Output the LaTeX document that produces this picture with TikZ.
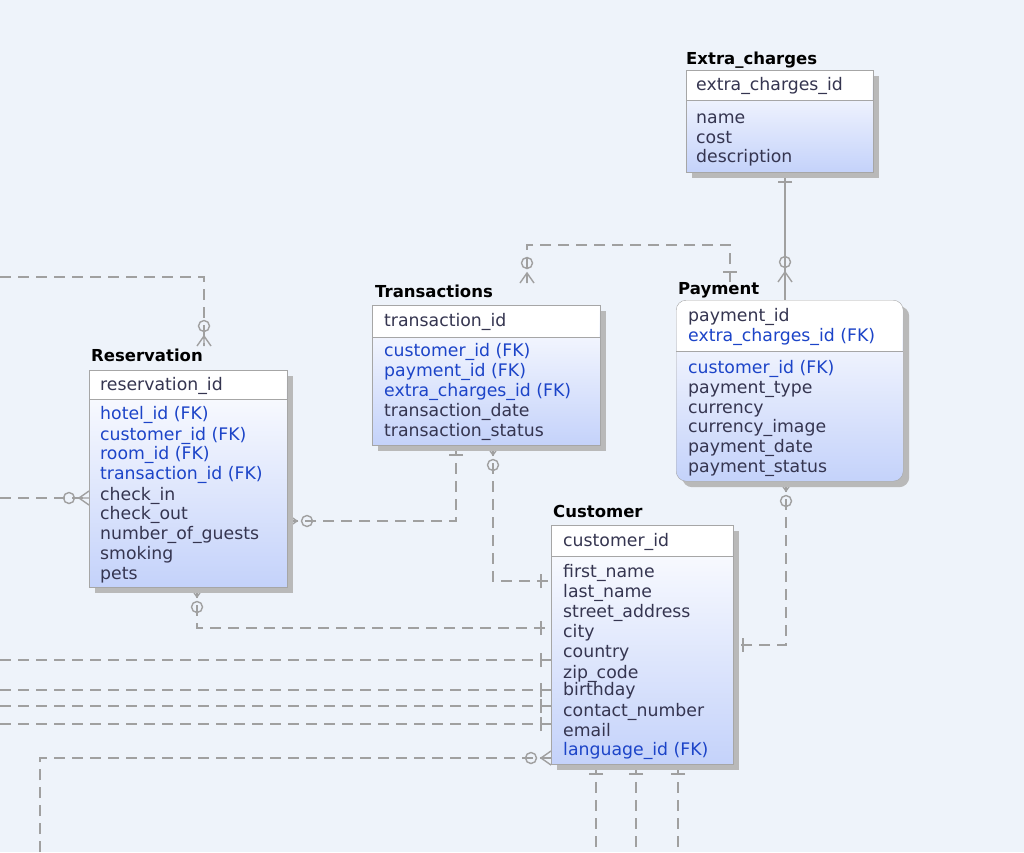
\documentclass[tikz,border=0pt]{standalone}
\usepackage{fontspec}
\setmainfont{DejaVu Sans}
\usetikzlibrary{shadows}
\definecolor{bg}{HTML}{EEF3FA}
\definecolor{fk}{HTML}{1C44C8}
\definecolor{tx}{HTML}{353550}
\definecolor{ln}{HTML}{A0A0A0}
\definecolor{bodyb}{HTML}{C4D2FA}
\begin{document}
\begin{tikzpicture}[x=1pt,y=-1pt,
  tbl/.style={draw=gray!70,anchor=north west,inner sep=0,top color=white,bottom color=bodyb,
    drop shadow={shadow xshift=6pt,shadow yshift=-6pt,fill=gray!55,opacity=1}},
  ttl/.style={anchor=base west,font=\fontsize{16.5}{16}\selectfont\bfseries,inner sep=0},
  fld/.style={anchor=base west,font=\fontsize{17.3}{17}\selectfont,text=tx,inner sep=0},
  fkf/.style={fld,text=fk},
  rel/.style={draw=ln,line width=1.6pt,dash pattern=on 11pt off 7pt},
  rels/.style={draw=ln,line width=1.6pt},
  bar/.pic={\draw[ln,line width=1.4pt] (10,-7)--(10,7);},
  crow/.pic={\draw[ln,line width=1.4pt] (0,-7)--(10,0)--(0,7) (0,0)--(10,0) (20,0) circle (5.5);},
]
\useasboundingbox[fill=bg] (0,0) rectangle (1024,852);

% free ends
\coordinate (l1) at (0,277);
\coordinate (l2) at (0,498);
\coordinate (h1) at (0,660);
\coordinate (h2) at (0,690);
\coordinate (h3) at (0,706);
\coordinate (h4) at (0,724);
\coordinate (b0) at (40,852);
\coordinate (bb1) at (596,852);
\coordinate (bb2) at (636,852);
\coordinate (bb3) at (678,852);

% ---------- connectors ----------
\draw[rels] (785,172) -- (785,300);
\pic[rotate=270] at (785,172) {bar};
\pic[rotate=90] at (785,282) {crow};

\draw[rel] (730,282) -- (730,245) -- (527,245) -- (527,283);
\pic[rotate=90] at (730,282) {bar};
\pic[rotate=90] at (527,283) {crow};

\draw[rel] (l1) -- (204,277) -- (204,346);
\pic[rotate=90] at (204,346) {crow};

\draw[rel] (l2) -- (89,498);
\pic[rotate=180] at (89,498) {crow};

\draw[rel] (456,445) -- (456,521) -- (287,521);
\pic[rotate=270] at (456,445) {bar};
\pic[rotate=0] at (287,521) {crow};

\draw[rel] (493,445) -- (493,581) -- (551,581);
\pic[rotate=270] at (493,445) {crow};
\pic[rotate=180] at (551,581) {bar};

\draw[rel] (197,587) -- (197,628) -- (551,628);
\pic[rotate=270] at (197,587) {crow};
\pic[rotate=180] at (551,628) {bar};

\draw[rel] (786,481) -- (786,645) -- (733,645);
\pic[rotate=270] at (786,481) {crow};
\pic[rotate=0] at (733,645) {bar};

\foreach \c/\y in {h1/660,h2/690,h3/706,h4/724}{
  \draw[rel] (\c) -- (551,\y);
  \pic[rotate=180] at (551,\y) {bar};
}
\draw[rel] (b0) -- (40,758) -- (551,758);
\pic[rotate=180] at (551,758) {crow};

\foreach \c/\x in {bb1/596,bb2/636,bb3/678}{
  \draw[rel] (\x,764) -- (\c);
  \pic[rotate=270] at (\x,764) {bar};
}

% ---------- tables ----------
\node[ttl] (ect) at (686,64) {Extra\_charges};
\node[tbl,minimum width=187,minimum height=102] (ec) at (686,70) {};
\fill[white] (686.8,70.8) rectangle (872.2,100);
\draw[gray!70] (686,100)--(873,100);
\node[fld] at (696,90) {extra\_charges\_id};
\node[fld] at (696,123) {name};
\node[fld] at (696,143) {cost};
\node[fld] at (696,162) {description};

\node[ttl] (trt) at (375,297) {Transactions};
\node[tbl,minimum width=228,minimum height=140] (tr) at (372,305) {};
\fill[white] (372.8,305.8) rectangle (599.2,337);
\draw[gray!70] (372,337)--(600,337);
\node[fld] at (384,326) {transaction\_id};
\node[fkf] at (384,356) {customer\_id (FK)};
\node[fkf] at (384,376) {payment\_id (FK)};
\node[fkf] at (384,396) {extra\_charges\_id (FK)};
\node[fld] at (384,416) {transaction\_date};
\node[fld] at (384,436) {transaction\_status};

\node[ttl] (pyt) at (678,294) {Payment};
\node[tbl,rounded corners=10pt,minimum width=227,minimum height=181] (py) at (676,300) {};
\begin{scope}
\clip[rounded corners=10pt] (676.8,300.8) rectangle (902.2,480);
\fill[white] (676.8,300.8) rectangle (902.2,351);
\end{scope}
\draw[gray!70] (676,351)--(903,351);
\node[fld] at (688,321) {payment\_id};
\node[fkf] at (688,341) {extra\_charges\_id (FK)};
\node[fkf] at (688,373) {customer\_id (FK)};
\node[fld] at (688,393) {payment\_type};
\node[fld] at (688,413) {currency};
\node[fld] at (688,432) {currency\_image};
\node[fld] at (688,452) {payment\_date};
\node[fld] at (688,472) {payment\_status};

\node[ttl] (rst) at (91,361) {Reservation};
\node[tbl,minimum width=198,minimum height=217] (rs) at (89,370) {};
\fill[white] (89.8,370.8) rectangle (286.2,399);
\draw[gray!70] (89,399)--(287,399);
\node[fld] at (100,390) {reservation\_id};
\node[fkf] at (100,419) {hotel\_id (FK)};
\node[fkf] at (100,440) {customer\_id (FK)};
\node[fkf] at (100,459) {room\_id (FK)};
\node[fkf] at (100,479) {transaction\_id (FK)};
\node[fld] at (100,500) {check\_in};
\node[fld] at (100,519) {check\_out};
\node[fld] at (100,539) {number\_of\_guests};
\node[fld] at (100,559) {smoking};
\node[fld] at (100,579) {pets};

\node[ttl] (cut) at (553,517) {Customer};
\node[tbl,minimum width=182,minimum height=239] (cu) at (551,525) {};
\fill[white] (551.8,525.8) rectangle (732.2,556);
\draw[gray!70] (551,556)--(733,556);
\node[fld] at (563,546) {customer\_id};
\node[fld] at (563,577) {first\_name};
\node[fld] at (563,597) {last\_name};
\node[fld] at (563,617) {street\_address};
\node[fld] at (563,637) {city};
\node[fld] at (563,657) {country};
\node[fld] at (563,678) {zip\_code};
\node[fld] at (563,695) {birthday};
\node[fld] at (563,716) {contact\_number};
\node[fld] at (563,736) {email};
\node[fkf] at (563,755) {language\_id (FK)};
\end{tikzpicture}
\end{document}
